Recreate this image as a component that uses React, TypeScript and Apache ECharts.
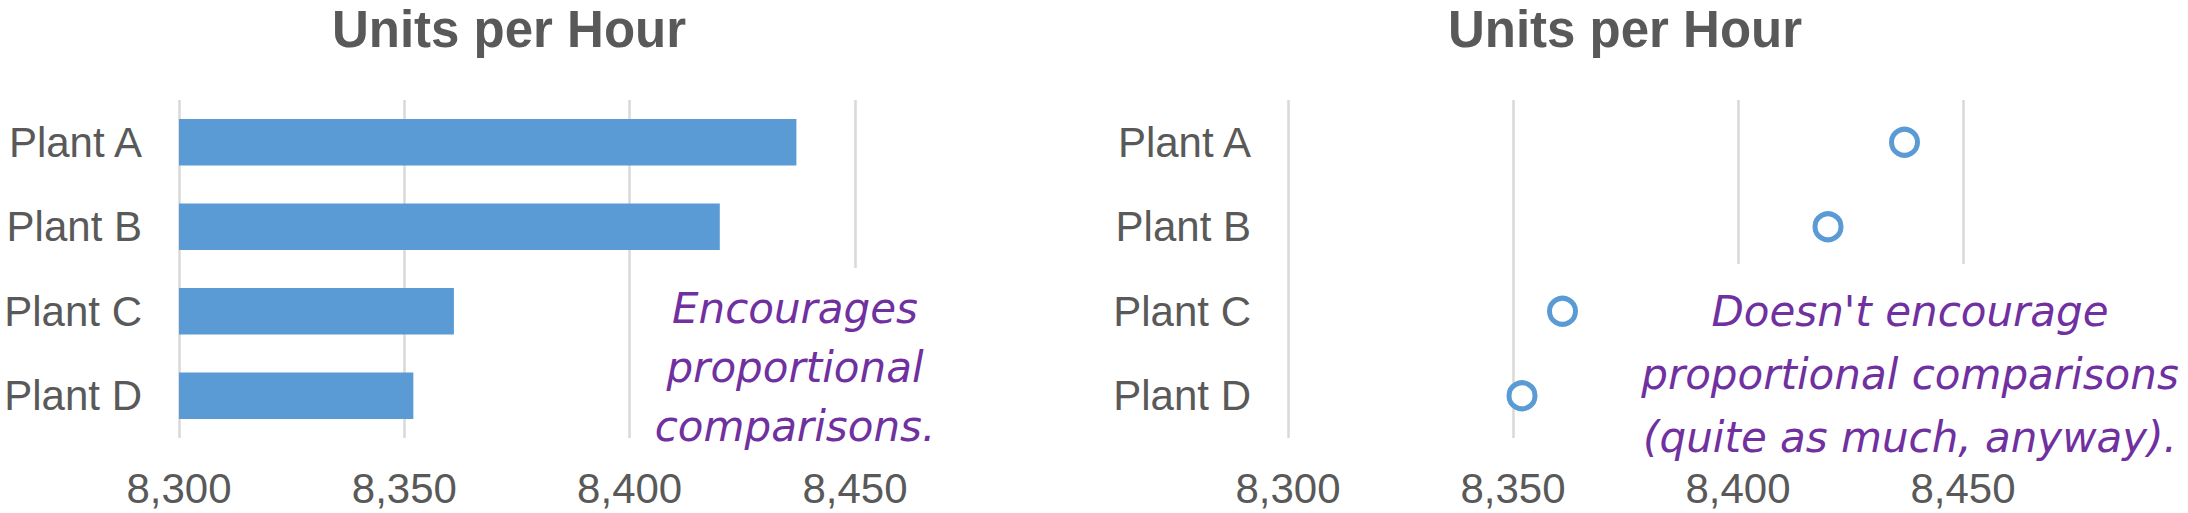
import React, { useEffect, useRef } from 'react';
import * as echarts from 'echarts';

// data
const plants = ['Plant A', 'Plant B', 'Plant C', 'Plant D'];
const unitsPerHour = [8437, 8420, 8361, 8352];
const axisMin = 8300;
const axisMax = 8450;
const axisStep = 50;

const chartTitle = 'Units per Hour';
const leftNote = ['Encourages', 'proportional', 'comparisons.'];
const rightNote = ["Doesn't encourage", 'proportional comparisons', '(quite as much, anyway).'];

const GRAY = '#595959';
const GRID_GRAY = '#d9d9d9';
const BLUE = '#5B9BD5';
const PURPLE = '#7030A0';
const FONT = "Arial, 'Liberation Sans', sans-serif";
const HAND = "'Segoe Print', 'DejaVu Sans', sans-serif";

const fmt = (v: number) => v.toLocaleString('en-US');

const App: React.FC = () => {
  const chartRef = useRef<HTMLDivElement>(null);

  useEffect(() => {
    if (!chartRef.current) return;
    const chart = echarts.init(chartRef.current, undefined, { renderer: 'svg' });

    const xAxisBase = {
      type: 'value',
      min: axisMin,
      max: axisMax,
      interval: axisStep,
      axisLine: { show: false },
      axisTick: { show: false },
      axisLabel: {
        formatter: fmt,
        fontSize: 42,
        fontFamily: FONT,
        color: GRAY,
        margin: 29
      },
      splitLine: { show: true, lineStyle: { color: GRID_GRAY, width: 2.5 } }
    };

    const yAxisBase = {
      type: 'category',
      data: plants,
      inverse: true,
      axisLine: { show: false },
      axisTick: { show: false },
      axisLabel: {
        fontSize: 42,
        fontFamily: FONT,
        color: GRAY,
        margin: 37
      },
      splitLine: { show: false }
    };

    const titleStyle = { fontSize: 51, fontWeight: 'bold', fontFamily: FONT, color: GRAY };

    const option = {
      animation: false,
      title: [
        { text: chartTitle, left: 509, top: 4, padding: 0, textAlign: 'center', textStyle: titleStyle },
        { text: chartTitle, left: 1625, top: 4, padding: 0, textAlign: 'center', textStyle: titleStyle }
      ],
      grid: [
        { left: 179, top: 100, width: 676, height: 338 },
        { left: 1288, top: 100, width: 675, height: 338 }
      ],
      xAxis: [
        { ...xAxisBase, gridIndex: 0 },
        { ...xAxisBase, gridIndex: 1 }
      ],
      yAxis: [
        { ...yAxisBase, gridIndex: 0 },
        { ...yAxisBase, gridIndex: 1 }
      ],
      series: [
        {
          type: 'bar',
          xAxisIndex: 0,
          yAxisIndex: 0,
          data: unitsPerHour,
          barCategoryGap: '45%',
          itemStyle: { color: BLUE }
        },
        {
          type: 'scatter',
          xAxisIndex: 1,
          yAxisIndex: 1,
          data: unitsPerHour.map((v, i) => [v, plants[i]]),
          symbol: 'circle',
          symbolSize: 26,
          itemStyle: { color: '#ffffff', borderColor: BLUE, borderWidth: 5, opacity: 1 }
        }
      ],
      graphic: [
        // text boxes with white fill, hiding the gridlines behind the notes
        {
          type: 'rect',
          z: 100,
          shape: { x: 650, y: 268, width: 290, height: 175 },
          style: { fill: '#ffffff' }
        },
        {
          type: 'rect',
          z: 100,
          shape: { x: 1630, y: 264, width: 558, height: 180 },
          style: { fill: '#ffffff' }
        },
        {
          type: 'text',
          z: 101,
          x: 795,
          y: 279,
          style: {
            text: leftNote.join('\n'),
            fontSize: 42,
            fontFamily: HAND,
            fontStyle: 'italic',
            lineHeight: 59,
            fill: PURPLE,
            align: 'center',
            verticalAlign: 'top'
          }
        },
        {
          type: 'text',
          z: 101,
          x: 1910,
          y: 280,
          style: {
            text: rightNote.join('\n'),
            fontSize: 42,
            fontFamily: HAND,
            fontStyle: 'italic',
            lineHeight: 63,
            fill: PURPLE,
            align: 'center',
            verticalAlign: 'top'
          }
        }
      ]
    };

    chart.setOption(option);

    return () => {
      chart.dispose();
    };
  }, []);

  return (
    <div
      ref={chartRef}
      style={{ position: 'fixed', left: 0, top: 0, width: '2188px', height: '513px', background: '#ffffff' }}
    ></div>
  );
};

export default App;
